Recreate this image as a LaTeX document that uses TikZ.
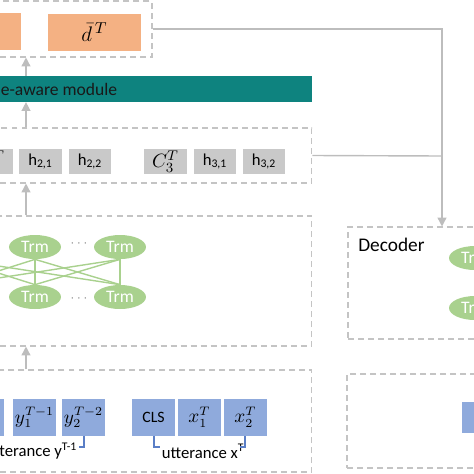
\documentclass[tikz,border=0pt]{standalone}
\usepackage{fontspec}
\setmainfont{Carlito}
\usetikzlibrary{arrows.meta,shapes.geometric}
\definecolor{orangebox}{HTML}{F4B183}
\definecolor{tealbar}{HTML}{0E837F}
\definecolor{graybox}{HTML}{C9C9C9}
\definecolor{bluebox}{HTML}{8FAADC}
\definecolor{greentrm}{HTML}{A9D18E}
\definecolor{dashgray}{HTML}{C4C4C4}
\definecolor{linegray}{HTML}{BDBDBD}
\definecolor{bracketblue}{HTML}{5A7EC6}
\tikzset{
  dashbox/.style={draw=dashgray, dash pattern=on 3.4pt off 2.3pt, line width=0.6pt, rectangle, inner sep=0pt},
  obox/.style={fill=orangebox, minimum width=1.86cm, minimum height=0.74cm, inner sep=0pt, font=\fontsize{13}{15}\selectfont},
  gbox/.style={fill=graybox, minimum width=0.86cm, minimum height=0.5cm, inner sep=0pt, font=\fontsize{9.5}{11}\selectfont},
  bbox/.style={fill=bluebox, minimum width=0.86cm, minimum height=0.74cm, inner sep=0pt, font=\fontsize{10.5}{12}\selectfont},
  trm/.style={ellipse, fill=greentrm, minimum width=1.04cm, minimum height=0.48cm, inner sep=0pt, text=white, font=\fontsize{10}{12}\selectfont},
  trmline/.style={draw=greentrm, line width=0.8pt},
  conn/.style={draw=linegray, line width=0.8pt},
  arr/.style={conn, -{Triangle[length=5pt,width=5pt]}},
  brk/.style={draw=bracketblue, line width=0.8pt},
  lbl/.style={inner sep=0pt, font=\fontsize{9.5}{11}\selectfont},
  dots/.style={inner sep=0pt, text=gray, font=\fontsize{7}{8}\selectfont}
}
\begin{document}
\begin{tikzpicture}[x=0.02cm, y=-0.02cm]
\useasboundingbox (0,0) rectangle (474,474);
\clip (0,0) rectangle (474,474);

% top box
\node[dashbox, minimum width=5.04cm, minimum height=1.12cm] (topbox) at (26,29) {};
\node[obox] (o1) at (-25.5,31.5) {};
\node[obox] (o2) at (94.5,32) {$\bar{d}^{\,T}$};

% teal module
\node[fill=tealbar, minimum width=11.44cm, minimum height=0.51cm, inner sep=0pt] (teal) at (26,89) {};
\node[inner sep=0pt, anchor=west, font=\fontsize{10}{12}\selectfont, text=black!90] (tealtxt) at (0.5,89) {e-aware module};

% hidden-state row
\node[dashbox, minimum width=11.44cm, minimum height=1.1cm] (hbox) at (26,155.5) {};
\node[gbox] (g0) at (-8.5,161.5) {\fontsize{11}{13}\selectfont$C_2^T$};
\node[gbox] (g1) at (40.5,161.5) {h\textsubscript{2,1}};
\node[gbox] (g2) at (90,161.5) {h\textsubscript{2,2}};
\node[gbox] (g3) at (165.5,161.5) {\fontsize{11}{13}\selectfont$C_3^T$};
\node[gbox] (g4) at (215,161.5) {h\textsubscript{3,1}};
\node[gbox] (g5) at (264,161.5) {h\textsubscript{3,2}};

% transformer block
\node[dashbox, minimum width=11.44cm, minimum height=2.6cm] (trmbox) at (26,281) {};
\foreach \n/\x in {0/-45,1/35,2/120}{
  \node[trm] (t\n) at (\x,247) {Trm};
  \node[trm] (b\n) at (\x,297) {Trm};
}
\foreach \i in {0,1,2}{
  \foreach \j in {0,1,2}{
    \draw[trmline] (t\i.south) -- (b\j.north);
  }
}
\node[dots] (d1) at (79,244) {$\cdots$};
\node[dots] (d2) at (79,299) {$\cdots$};

% input block
\node[dashbox, minimum width=11.44cm, minimum height=2.04cm] (botbox) at (26,421) {};
\node[bbox] (u0) at (-17.5,417.5) {};
\node[bbox] (u1) at (34.5,417.5) {$y_1^{T-1}$};
\node[bbox] (u2) at (83.5,417.5) {$y_2^{T-2}$};
\node[bbox, font=\fontsize{9}{10}\selectfont] (u3) at (153.5,417.5) {CLS};
\node[bbox] (u4) at (199.5,417.5) {$x_1^T$};
\node[bbox] (u5) at (245.5,417.5) {$x_2^T$};

\coordinate (ya) at (84,447);
\coordinate (yb) at (79,447);
\draw[brk] (u2.south -| ya) -- (ya) -- (yb);
\node[lbl, anchor=east] (ylbl) at (77.5,451) {utterance y\textsuperscript{T-1}};

\coordinate (xa) at (154,447);
\coordinate (xb) at (160,447);
\coordinate (xc) at (240,447);
\coordinate (xd) at (245,447);
\draw[brk] (u3.south -| xa) -- (xa) -- (xb);
\node[lbl, anchor=west] (xlbl) at (161.5,451) {utterance x\textsuperscript{T}};
\draw[brk] (xc) -- (xd) -- (u5.south -| xd);

% vertical arrows
\draw[arr] (teal.north) -- (topbox.south);
\draw[arr] (hbox.north) -- (teal.south);
\draw[arr] (trmbox.north) -- (hbox.south);
\draw[arr] (botbox.north) -- (trmbox.south);

% decoder
\node[dashbox, minimum width=5.04cm, minimum height=2.24cm] (dec) at (474,283) {};
\node[inner sep=0pt, anchor=west, font=\fontsize{11}{13}\selectfont] (dectxt) at (358,245) {Decoder};
\node[trm] (dt) at (475,258) {Trm};
\node[trm] (db) at (475,308) {Trm};
\draw[trmline] (dt.south) -- (db.north);

% bottom-right box
\node[dashbox, minimum width=5.06cm, minimum height=1.88cm] (br) at (473.5,421) {};
\node[fill=bluebox, minimum width=0.86cm, minimum height=0.62cm, inner sep=0pt] (brb) at (483.5,417.5) {};

% right connectors
\coordinate (j) at (442,156);
\draw[conn] (topbox.east) -| (j);
\draw[conn] (hbox.east) -- (j);
\draw[arr] (j) -- (j |- dec.north);
\end{tikzpicture}
\end{document}
